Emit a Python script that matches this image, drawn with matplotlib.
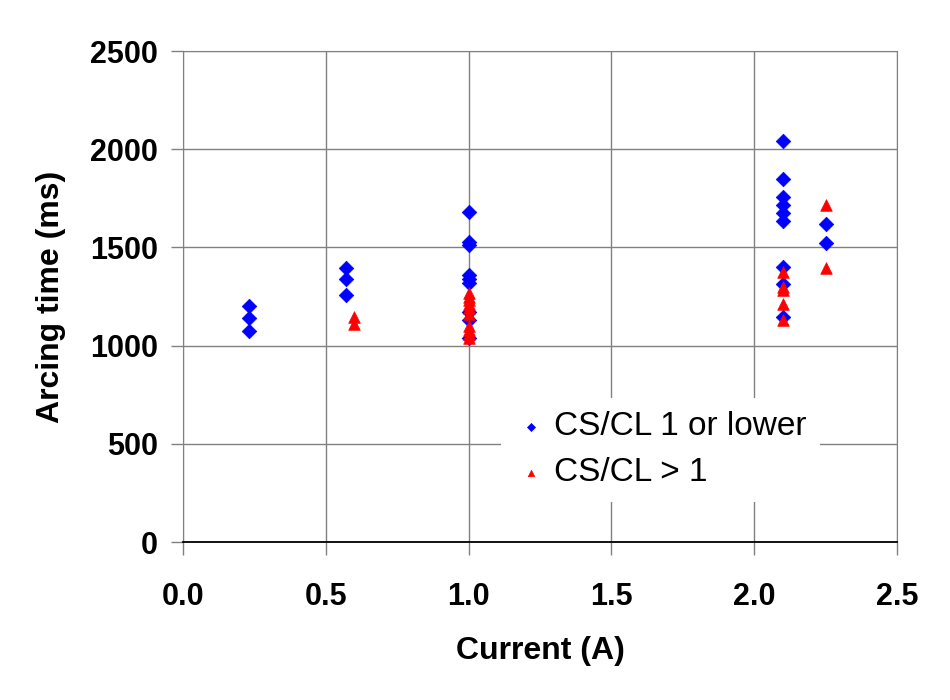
import matplotlib
matplotlib.use("Agg")
import matplotlib.pyplot as plt

plt.rcParams['font.family'] = ['Liberation Sans', 'DejaVu Sans']

# Series: CS/CL 1 or lower (blue diamonds)
low_x = [0.23, 0.23, 0.23,
         0.57, 0.57, 0.57,
         1.0, 1.0, 1.0, 1.0, 1.0, 1.0, 1.0, 1.0, 1.0,
         2.1, 2.1, 2.1, 2.1, 2.1, 2.1, 2.1, 2.1, 2.1,
         2.25, 2.25]
low_y = [1200, 1140, 1075,
         1395, 1340, 1258,
         1680, 1530, 1510, 1360, 1340, 1320, 1170, 1130, 1040,
         2040, 1850, 1755, 1715, 1675, 1635, 1400, 1315, 1145,
         1620, 1520]

# Series: CS/CL > 1 (red triangles)
high_x = [0.6, 0.6,
          1.0, 1.0, 1.0, 1.0, 1.0, 1.0, 1.0, 1.0, 1.0, 1.0,
          2.1, 2.1, 2.1, 2.1, 2.1,
          2.25, 2.25]
high_y = [1145, 1110,
          1270, 1250, 1230, 1210, 1190, 1160, 1100, 1080, 1060, 1040,
          1375, 1300, 1285, 1210, 1130,
          1715, 1395]

x_ticks = [0.0, 0.5, 1.0, 1.5, 2.0, 2.5]
x_tick_labels = ["0.0", "0.5", "1.0", "1.5", "2.0", "2.5"]
y_ticks = [0, 500, 1000, 1500, 2000, 2500]
y_tick_labels = ["0", "500", "1000", "1500", "2000", "2500"]

fig = plt.figure(figsize=(9.5, 7), dpi=100)
ax = fig.add_axes([0.1926, 0.2257, 0.7516, 0.7014])

ax.scatter(low_x, low_y, marker='D', s=55, color='#0000ff', edgecolors='#0000ff',
           linewidths=0.5, label='CS/CL 1 or lower', zorder=3)
ax.scatter(high_x, high_y, marker='^', s=70, color='#ff0000', edgecolors='#ff0000',
           linewidths=0.5, label='CS/CL > 1', zorder=3)

ax.set_xlim(0, 2.5)
ax.set_ylim(0, 2500)
ax.set_xticks(x_ticks)
ax.set_xticklabels(x_tick_labels)
ax.set_yticks(y_ticks)
ax.set_yticklabels(y_tick_labels)
ax.grid(True, color='#808080', linewidth=1.0, zorder=0)
ax.set_axisbelow(True)

for lab in ax.get_xticklabels() + ax.get_yticklabels():
    lab.set_fontsize(22)
    lab.set_fontweight('bold')
ax.tick_params(axis='x', direction='out', length=9, width=1, color='#808080', pad=20)
ax.tick_params(axis='y', direction='out', length=9, width=1, color='#808080', pad=9)

ax.spines['left'].set_color('#808080')
ax.spines['bottom'].set_color('#000000')
ax.spines['bottom'].set_linewidth(1.3)
ax.spines['top'].set_color('#808080')
ax.spines['right'].set_color('#808080')

ax.set_xlabel('Current (A)', fontsize=23, fontweight='bold', labelpad=17)
ax.set_ylabel('Arcing time (ms)', fontsize=23, fontweight='bold', labelpad=17)

leg = ax.legend(loc='upper left', bbox_to_anchor=(0.422, 0.327), frameon=True,
                fontsize=24, markerscale=0.55, handletextpad=0.2,
                handlelength=1.0, labelspacing=0.45, borderpad=0.4)
leg.get_frame().set_edgecolor('none')
leg.get_frame().set_facecolor('white')
leg.get_frame().set_alpha(1.0)
leg.get_frame().set_boxstyle('square', pad=0.0)

fig.savefig('out.png', dpi=100)
